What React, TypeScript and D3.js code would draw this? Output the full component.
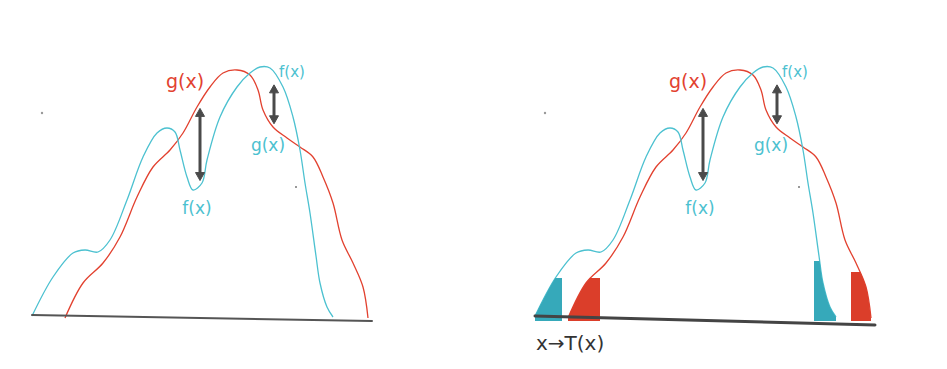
import React from "react";
import * as d3 from "d3";

// positions along the axis (0..340) and heights above baseline
const fX = [0, 21, 41, 53, 66, 78, 95, 111, 125, 135, 143, 148, 155, 161, 170, 175, 188, 205, 218, 228, 238, 251, 261, 268, 273, 278, 284, 288, 295, 301];
const fY = [2, 41, 65, 68, 66, 78, 118, 161, 185, 190, 186, 168, 141, 128, 135, 158, 201, 231, 245, 251, 250, 231, 201, 168, 135, 105, 62, 35, 11, 1];
const gX = [33, 51, 71, 88, 105, 121, 138, 151, 165, 178, 191, 205, 218, 226, 231, 241, 255, 268, 281, 291, 301, 310, 321, 331, 336];
const gY = [0, 35, 55, 81, 121, 151, 168, 185, 211, 231, 245, 248, 243, 228, 208, 191, 180, 171, 161, 141, 115, 78, 55, 31, 0];
const arrowXs = [168, 242];
// shaded tails: [from, to, max height]
const fillF = [[0, 27, 40], [279, 303, 57]];
const fillG = [[33, 65, 40], [316, 338, 46]];
const panels = ["left", "right"];

const CYAN = "#4cc1d0";
const RED = "#e2412f";
const CYAN_FILL = "#36a9ba";
const RED_FILL = "#db3e2a";
const DARK = "#4a4a4a";

function interp(xs: number[], ys: number[], x: number) {
  for (let i = 0; i < xs.length - 1; i++) {
    if (x >= xs[i] && x <= xs[i + 1]) {
      const t = (x - xs[i]) / (xs[i + 1] - xs[i]);
      return ys[i] + t * (ys[i + 1] - ys[i]);
    }
  }
  return 0;
}

function Panel({ idx }: { idx: number }) {
  const off = idx === 0 ? 32 : 535;
  const x = d3.scaleLinear().domain([0, 340]).range([off, off + 340]);
  const y = d3.scaleLinear().domain([0, 260]).range([318, 58]);
  const fPts = fX.map((v, i) => [v, fY[i]] as [number, number]);
  const gPts = gX.map((v, i) => [v, gY[i]] as [number, number]);
  const line = d3
    .line<[number, number]>()
    .x((d) => x(d[0]))
    .y((d) => y(d[1]))
    .curve(d3.curveCatmullRom.alpha(0.5));
  const area = d3
    .area<[number, number]>()
    .x((d) => x(d[0]))
    .y0(y(0) + 3)
    .y1((d) => y(d[1]))
    .curve(d3.curveCatmullRom.alpha(0.5));
  const right = idx === 1;
  const id = `p${idx}`;
  const labelFont = "'DejaVu Sans', sans-serif";
  return (
    <g>
      {right && (
        <defs>
          {fillF.map((r, i) => (
            <clipPath id={`${id}f${i}`} key={`f${i}`}>
              <rect x={x(r[0])} y={y(r[2])} width={x(r[1]) - x(r[0])} height={y(0) - y(r[2]) + 6} />
            </clipPath>
          ))}
          {fillG.map((r, i) => (
            <clipPath id={`${id}g${i}`} key={`g${i}`}>
              <rect x={x(r[0])} y={y(r[2])} width={x(r[1]) - x(r[0])} height={y(0) - y(r[2]) + 6} />
            </clipPath>
          ))}
        </defs>
      )}
      <path d={line(gPts) || ""} fill="none" stroke={RED} strokeWidth={1.3} />
      <path d={line(fPts) || ""} fill="none" stroke={CYAN} strokeWidth={1.3} />
      {right &&
        fillF.map((_, i) => (
          <path key={`af${i}`} d={area(fPts) || ""} fill={CYAN_FILL} clipPath={`url(#${id}f${i})`} />
        ))}
      {right &&
        fillG.map((_, i) => (
          <path key={`ag${i}`} d={area(gPts) || ""} fill={RED_FILL} clipPath={`url(#${id}g${i})`} />
        ))}
      <line
        x1={x(0)}
        y1={y(0) - 3 + (right ? 1 : 0)}
        x2={x(340)}
        y2={y(0) + 3 + (right ? 4 : 0)}
        stroke={right ? "#444" : "#555"}
        strokeWidth={right ? 3 : 2}
        strokeLinecap="round"
      />
      {arrowXs.map((ax, i) => {
        const a = interp(gX, gY, ax);
        const b = interp(fX, fY, ax);
        const top = Math.max(a, b);
        const bot = Math.min(a, b);
        const y1 = y(top) + (i === 0 ? 6 : 11);
        const y2 = y(bot) - 4;
        const xx = x(ax);
        return (
          <g key={i} stroke={DARK} fill={DARK}>
            <line x1={xx} y1={y1 + 5} x2={xx} y2={y2 - 5} strokeWidth={3} />
            <path d={`M${xx},${y1} L${xx - 4.5},${y1 + 8} L${xx + 4.5},${y1 + 8} Z`} strokeWidth={1} />
            <path d={`M${xx},${y2} L${xx - 4.5},${y2 - 8} L${xx + 4.5},${y2 - 8} Z`} strokeWidth={1} />
          </g>
        );
      })}
      <text x={x(153)} y={y(230)} fill={RED} fontSize={19} fontFamily={labelFont} textAnchor="middle">g(x)</text>
      <text x={x(260)} y={y(241)} fill={CYAN} fontSize={15} fontFamily={labelFont} textAnchor="middle">f(x)</text>
      <text x={x(236)} y={y(167)} fill={CYAN} fontSize={17} fontFamily={labelFont} textAnchor="middle">g(x)</text>
      <text x={x(165)} y={y(104)} fill={CYAN} fontSize={17} fontFamily={labelFont} textAnchor="middle">f(x)</text>
      <circle cx={x(10)} cy={y(205)} r={1.2} fill="#999" />
      <circle cx={x(264)} cy={y(131)} r={1} fill="#777" />
      {right && (
        <text x={x(1)} y={y(0) + 32} fill="#333" fontSize={20} fontFamily={labelFont}>
          x→T(x)
        </text>
      )}
    </g>
  );
}

export default function App() {
  return (
    <svg
      width={947}
      height={369}
      style={{ position: "absolute", left: 0, top: 0, background: "#fff" }}
    >
      {panels.map((p, i) => (
        <Panel key={p} idx={i} />
      ))}
    </svg>
  );
}
